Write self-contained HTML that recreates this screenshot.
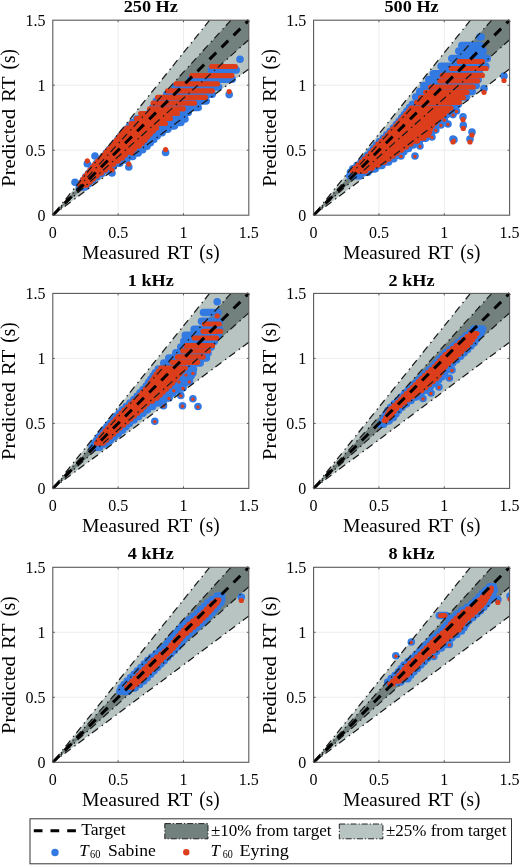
<!DOCTYPE html><html><head><meta charset="utf-8"><style>html,body{margin:0;padding:0;background:#fff;}svg{display:block}text{font-family:"Liberation Serif",serif;fill:#000}</style></head><body>
<svg width="520" height="865" viewBox="0 0 520 865">
<clipPath id="c0"><rect x="52.8" y="20.2" width="196" height="195"/></clipPath>
<path d="M118.13 20.2V215.2M52.8 150.2H248.8M183.47 20.2V215.2M52.8 85.2H248.8" stroke="#e8e8e8" stroke-width="0.8" fill="none"/>
<polygon points="52.8,215.2 209.6,20.2 248.8,20.2 248.8,68.95" fill="#b7c4c1"/>
<polygon points="52.8,215.2 230.98,20.2 248.8,20.2 248.8,39.7" fill="#72817e"/>
<g clip-path="url(#c0)">
<path d="M136.66 119.04H184.95M132.92 122.44H180.87M129.7 125.84H174.52M126.58 129.24H167.8M123.46 132.64H162.13M120.52 136.04H157.16M117.97 139.44H153.76M115.27 142.84H150.36M112.43 146.24H146.96M109.38 149.64H142.68M106.26 153.04H138.14M103.2 156.44H132.7M99.96 159.84H126.52M96.61 163.24H119.72M93.89 166.64H112.92M91.17 170.04H106.94M88.45 173.44H101.58M85.73 176.84H96.82M83.46 180.24H92.51M81.42 183.64H88.56M79.38 187.04H85.16M211.5 70H236.2M190.8 79.2H232.2M175.3 87H218.5M166.8 94.3H212.2M156.3 101H206.2M152.8 107.5H198.2M149.8 112.5H188.2" stroke="#3279e2" stroke-width="7.6" stroke-linecap="round" fill="none"/>
<g fill="#3279e2"><circle cx="240" cy="59.2" r="3.8"/><circle cx="229.2" cy="94.6" r="3.8"/><circle cx="165.6" cy="152.5" r="3.8"/><circle cx="87.3" cy="163.8" r="3.8"/><circle cx="128.8" cy="167" r="3.8"/><circle cx="112" cy="173" r="3.8"/><circle cx="132" cy="156" r="3.8"/><circle cx="75" cy="182.3" r="3.8"/><circle cx="95" cy="156" r="3.8"/></g>
<path d="M126.83 128.08H156.63M123.69 131.08H153.32M120.94 134.08H150.32M118.54 137.08H147.67M116.29 140.08H145.17M113.87 143.08H142.32M111.37 146.08H139.32M108.69 149.08H134.59M105.94 152.08H129.09M103.23 155.08H125.32M100.52 158.08H122.29M97.52 161.08H118.09M94.74 164.08H113.89M92.34 167.08H109.69M89.94 170.08H105.49M87.54 173.08H101.29M85.14 176.08H97.09M82.95 179.08H93.32M81.15 182.08H90.32M79.77 185.08H86.9M211.6 66.5H235.4M191.6 75.6H231.9M176.1 83.8H217.4M167.6 90.8H212.4M157.6 97.3H205.4M153.1 103.2H194.4M149.6 108.8H183.4M140.6 113.5H177.4M136.6 118.5H170.4M131.1 123.5H165.4" stroke="#dc3d1b" stroke-width="5.2" stroke-linecap="round" fill="none"/>
<g fill="#dc3d1b"><circle cx="229.2" cy="91.6" r="2.6"/><circle cx="165.6" cy="149.5" r="2.6"/><circle cx="87.3" cy="160.8" r="2.6"/><circle cx="128.8" cy="164" r="2.6"/><circle cx="112" cy="170" r="2.6"/><circle cx="132" cy="153" r="2.6"/></g>
</g>
<path d="M209.6 20.2L52.8 215.2M248.8 68.95L52.8 215.2M230.98 20.2L52.8 215.2M248.8 39.7L52.8 215.2" stroke="#1a1a1a" stroke-width="1.25" stroke-dasharray="7.5 3.5 1.5 4.6" fill="none"/>
<path d="M52.8 215.2L248.8 20.2" stroke="#000" stroke-width="3.0" stroke-dasharray="9.5 7.5" fill="none"/>
<rect x="52.8" y="20.2" width="196" height="195" fill="none" stroke="#5a5a5a" stroke-width="1.1"/>
<path d="M118.13 215.2v-2M118.13 20.2v2M52.8 150.2h2M248.8 150.2h-2M183.47 215.2v-2M183.47 20.2v2M52.8 85.2h2M248.8 85.2h-2" stroke="#5a5a5a" stroke-width="1" fill="none"/>
<text x="52.8" y="237.7" font-size="16" text-anchor="middle">0</text>
<text x="45.4" y="220.7" font-size="16" text-anchor="end">0</text>
<text x="118.13" y="237.7" font-size="16" text-anchor="middle">0.5</text>
<text x="45.4" y="155.7" font-size="16" text-anchor="end">0.5</text>
<text x="183.47" y="237.7" font-size="16" text-anchor="middle">1</text>
<text x="45.4" y="90.7" font-size="16" text-anchor="end">1</text>
<text x="248.8" y="237.7" font-size="16" text-anchor="middle">1.5</text>
<text x="45.4" y="25.7" font-size="16" text-anchor="end">1.5</text>
<text x="120.9" y="258.6" font-size="18.8" text-anchor="middle" textLength="77.6" lengthAdjust="spacingAndGlyphs">Measured</text>
<text x="179.5" y="258.6" font-size="18.8" text-anchor="middle" textLength="25.6" lengthAdjust="spacingAndGlyphs">RT</text>
<text x="209.5" y="258.6" font-size="20" text-anchor="middle" textLength="20.3" lengthAdjust="spacingAndGlyphs">(s)</text>
<text transform="translate(14.7 147.9) rotate(-90)" font-size="18.8" text-anchor="middle" textLength="77.8" lengthAdjust="spacingAndGlyphs">Predicted</text>
<text transform="translate(14.7 89.2) rotate(-90)" font-size="18.8" text-anchor="middle" textLength="25.6" lengthAdjust="spacingAndGlyphs">RT</text>
<text transform="translate(14.7 59.3) rotate(-90)" font-size="20" text-anchor="middle" textLength="20.3" lengthAdjust="spacingAndGlyphs">(s)</text>
<text x="150.8" y="12.3" font-size="17.5" font-weight="bold" text-anchor="middle" textLength="54.3" lengthAdjust="spacingAndGlyphs">250 Hz</text>
<clipPath id="c1"><rect x="313.6" y="20.2" width="196" height="195"/></clipPath>
<path d="M378.93 20.2V215.2M313.6 150.2H509.6M444.27 20.2V215.2M313.6 85.2H509.6" stroke="#e8e8e8" stroke-width="0.8" fill="none"/>
<polygon points="313.6,215.2 470.4,20.2 509.6,20.2 509.6,68.95" fill="#b7c4c1"/>
<polygon points="313.6,215.2 491.78,20.2 509.6,20.2 509.6,39.7" fill="#72817e"/>
<g clip-path="url(#c1)">
<path d="M412.33 104.24H458.31M409.56 107.64H453.96M406.87 111.04H450.06M404.33 114.44H446.93M401.79 117.84H443.81M399.08 121.24H440.3M396.32 124.64H436.7M393.38 128.04H433.73M390.06 131.44H432.18M386.74 134.84H430.64M383.25 138.24H425.66M379.69 141.64H419.33M376.28 145.04H413.31M373.51 148.44H408.56M370.74 151.84H403.82M367.66 155.24H398.85M364.42 158.64H393.77M361.08 162.04H388.54M356.9 165.44H381.89M352.72 168.84H375.25M350.43 172.24H367.93M349.74 175.64H360.05M479.8 37H481.2M461.8 45.5H480.2M458.8 51H483.2M451.8 58.5H487.2M441.1 66.2H485.8M433.4 73.8H479.7M428.8 79.5H478.2M423.8 85.5H476.2M419.8 91.5H472.2M415.8 97H466.2" stroke="#3279e2" stroke-width="7.6" stroke-linecap="round" fill="none"/>
<g fill="#3279e2"><circle cx="504" cy="76" r="3.8"/><circle cx="484" cy="88.5" r="3.8"/><circle cx="463" cy="116.7" r="3.8"/><circle cx="463.3" cy="125.4" r="3.8"/><circle cx="472" cy="132" r="3.8"/><circle cx="470" cy="139" r="3.8"/><circle cx="453" cy="139" r="3.8"/><circle cx="441" cy="125" r="3.8"/><circle cx="435.8" cy="130" r="3.8"/><circle cx="415" cy="156" r="3.8"/><circle cx="401" cy="156" r="3.8"/><circle cx="454" cy="139.7" r="3.8"/><circle cx="444.4" cy="119.8" r="3.8"/><circle cx="453" cy="114.6" r="3.8"/><circle cx="456.5" cy="111" r="3.8"/><circle cx="427" cy="132" r="3.8"/><circle cx="448" cy="124" r="3.8"/><circle cx="432" cy="137" r="3.8"/><circle cx="420" cy="146" r="3.8"/></g>
<path d="M410.94 108.08H450.9M408.53 111.08H447.32M405.91 114.08H444.32M403.28 117.08H441.32M400.66 120.08H438.32M398.03 123.08H435.32M395.41 126.08H432.32M392.75 129.08H430.71M390.08 132.08H429.71M387.42 135.08H428.71M384.37 138.08H423.94M381.16 141.08H417.51M377.94 144.08H411.09M375.42 147.08H406.35M372.98 150.08H401.81M370.52 153.08H397.29M367.41 156.08H393.15M364.31 159.08H389.01M361.19 162.08H384.62M357.93 165.08H378.48M354.68 168.08H372.33M352.24 171.08H365.7M459.1 61.5H482.4M451.4 68.5H486.2M442.2 75.4H482.4M439.9 80.8H477.8M430.6 87H473.2M425.6 92.3H467M420.6 97.7H463.4M416.6 102.3H459.4" stroke="#dc3d1b" stroke-width="5.2" stroke-linecap="round" fill="none"/>
<g fill="#dc3d1b"><circle cx="504" cy="80.5" r="2.6"/><circle cx="484" cy="92.3" r="2.6"/><circle cx="463" cy="119.7" r="2.6"/><circle cx="463.3" cy="128.4" r="2.6"/><circle cx="472" cy="135" r="2.6"/><circle cx="470" cy="142" r="2.6"/><circle cx="453" cy="142" r="2.6"/><circle cx="441" cy="125.5" r="1.7"/><circle cx="435.8" cy="130.5" r="1.7"/><circle cx="415" cy="156.5" r="1.7"/><circle cx="401" cy="156.5" r="1.7"/><circle cx="454" cy="140.2" r="1.7"/><circle cx="444.4" cy="120.3" r="1.7"/><circle cx="453" cy="115.1" r="1.7"/><circle cx="456.5" cy="111.5" r="1.7"/><circle cx="427" cy="132.5" r="1.7"/><circle cx="448" cy="124.5" r="1.7"/><circle cx="432" cy="137.5" r="1.7"/><circle cx="420" cy="146.5" r="1.7"/></g>
</g>
<path d="M470.4 20.2L313.6 215.2M509.6 68.95L313.6 215.2M491.78 20.2L313.6 215.2M509.6 39.7L313.6 215.2" stroke="#1a1a1a" stroke-width="1.25" stroke-dasharray="7.5 3.5 1.5 4.6" fill="none"/>
<path d="M313.6 215.2L509.6 20.2" stroke="#000" stroke-width="3.0" stroke-dasharray="9.5 7.5" fill="none"/>
<rect x="313.6" y="20.2" width="196" height="195" fill="none" stroke="#5a5a5a" stroke-width="1.1"/>
<path d="M378.93 215.2v-2M378.93 20.2v2M313.6 150.2h2M509.6 150.2h-2M444.27 215.2v-2M444.27 20.2v2M313.6 85.2h2M509.6 85.2h-2" stroke="#5a5a5a" stroke-width="1" fill="none"/>
<text x="313.6" y="237.7" font-size="16" text-anchor="middle">0</text>
<text x="306.2" y="220.7" font-size="16" text-anchor="end">0</text>
<text x="378.93" y="237.7" font-size="16" text-anchor="middle">0.5</text>
<text x="306.2" y="155.7" font-size="16" text-anchor="end">0.5</text>
<text x="444.27" y="237.7" font-size="16" text-anchor="middle">1</text>
<text x="306.2" y="90.7" font-size="16" text-anchor="end">1</text>
<text x="509.6" y="237.7" font-size="16" text-anchor="middle">1.5</text>
<text x="306.2" y="25.7" font-size="16" text-anchor="end">1.5</text>
<text x="381.7" y="258.6" font-size="18.8" text-anchor="middle" textLength="77.6" lengthAdjust="spacingAndGlyphs">Measured</text>
<text x="440.3" y="258.6" font-size="18.8" text-anchor="middle" textLength="25.6" lengthAdjust="spacingAndGlyphs">RT</text>
<text x="470.3" y="258.6" font-size="20" text-anchor="middle" textLength="20.3" lengthAdjust="spacingAndGlyphs">(s)</text>
<text transform="translate(275.5 147.9) rotate(-90)" font-size="18.8" text-anchor="middle" textLength="77.8" lengthAdjust="spacingAndGlyphs">Predicted</text>
<text transform="translate(275.5 89.2) rotate(-90)" font-size="18.8" text-anchor="middle" textLength="25.6" lengthAdjust="spacingAndGlyphs">RT</text>
<text transform="translate(275.5 59.3) rotate(-90)" font-size="20" text-anchor="middle" textLength="20.3" lengthAdjust="spacingAndGlyphs">(s)</text>
<text x="411.6" y="12.3" font-size="17.5" font-weight="bold" text-anchor="middle" textLength="54.3" lengthAdjust="spacingAndGlyphs">500 Hz</text>
<clipPath id="c2"><rect x="52.8" y="293.4" width="196" height="195"/></clipPath>
<path d="M118.13 293.4V488.4M52.8 423.4H248.8M183.47 293.4V488.4M52.8 358.4H248.8" stroke="#e8e8e8" stroke-width="0.8" fill="none"/>
<polygon points="52.8,488.4 209.6,293.4 248.8,293.4 248.8,342.15" fill="#b7c4c1"/>
<polygon points="52.8,488.4 230.98,293.4 248.8,293.4 248.8,312.9" fill="#72817e"/>
<g clip-path="url(#c2)">
<path d="M158.27 369.04H193.44M155.5 372.44H192.53M153.14 375.84H191.22M150.81 379.24H189.34M148.54 382.64H185.4M146.13 386.04H181.42M143.09 389.44H177.3M140.06 392.84H173.09M137.06 396.24H168.59M133.83 399.64H163.75M129.91 403.04H157.86M126.16 406.44H152.54M122.47 409.84H147.44M119.25 413.24H142.97M116.04 416.64H138.54M112.99 420.04H133.98M109.94 423.44H129.41M106.85 426.84H125.86M103.75 430.24H122.36M101.24 433.64H118.27M98.77 437.04H114.15M96.47 440.44H110.15M94.18 443.84H106.12M92.13 447.24H99.62M203.5 312.5H218.1M201.5 321.2H219.5M194.1 329.3H219.5M185.3 335.4H218.2M183.8 341.4H214.2M180.8 347H211.2M175.8 352.9H208M168.8 358H206.4M163.8 363H200.2" stroke="#3279e2" stroke-width="7.6" stroke-linecap="round" fill="none"/>
<g fill="#3279e2"><circle cx="217.2" cy="301.7" r="3.8"/><circle cx="182.5" cy="405.8" r="3.8"/><circle cx="192.9" cy="398.8" r="3.8"/><circle cx="198" cy="406.5" r="3.8"/><circle cx="154.8" cy="421.3" r="3.8"/><circle cx="175.6" cy="369.4" r="3.8"/><circle cx="186" cy="374.6" r="3.8"/><circle cx="192.9" cy="372.9" r="3.8"/><circle cx="179" cy="381.5" r="3.8"/><circle cx="189.4" cy="381.5" r="3.8"/><circle cx="173.8" cy="390.2" r="3.8"/><circle cx="180.8" cy="395.4" r="3.8"/><circle cx="163.5" cy="405.8" r="3.8"/><circle cx="169" cy="398" r="3.8"/><circle cx="183" cy="388" r="3.8"/></g>
<path d="M160.87 368.08H185.32M158.37 371.08H182.32M156.16 374.08H179.8M154.08 377.08H177.49M152.07 380.08H175.03M150.11 383.08H172.42M147.98 386.08H169.68M145.25 389.08H166.5M142.53 392.08H163.32M139.88 395.08H160.23M137.24 398.08H157.14M133.97 401.08H152.45M130.51 404.08H147.32M127.26 407.08H144.32M124.02 410.08H141.31M121.2 413.08H137.83M118.37 416.08H134.35M115.65 419.08H130.8M112.96 422.08H127.21M110.29 425.08H123.66M107.65 428.08H120.13M105.08 431.08H116.68M102.81 434.08H113.5M100.55 437.08H110.31M98.56 440.08H106.78M96.58 443.08H103.25M204.3 324H219.3M203 331.3H220.7M194.2 338H216.6M186.1 345.5H212.6M182.8 350.9H208.5M177.4 356.9H203.2M172 362.3H197.8" stroke="#dc3d1b" stroke-width="5.2" stroke-linecap="round" fill="none"/>
<g fill="#dc3d1b"><circle cx="217.2" cy="315.9" r="2.6"/><circle cx="182.5" cy="406.3" r="1.7"/><circle cx="192.9" cy="399.3" r="1.7"/><circle cx="198" cy="407" r="1.7"/><circle cx="154.8" cy="421.8" r="1.7"/><circle cx="175.6" cy="369.9" r="1.7"/><circle cx="186" cy="375.1" r="1.7"/><circle cx="192.9" cy="373.4" r="1.7"/><circle cx="179" cy="382" r="1.7"/><circle cx="189.4" cy="382" r="1.7"/><circle cx="173.8" cy="390.7" r="1.7"/><circle cx="180.8" cy="395.9" r="1.7"/><circle cx="163.5" cy="406.3" r="1.7"/><circle cx="169" cy="398.5" r="1.7"/><circle cx="183" cy="388.5" r="1.7"/></g>
</g>
<path d="M209.6 293.4L52.8 488.4M248.8 342.15L52.8 488.4M230.98 293.4L52.8 488.4M248.8 312.9L52.8 488.4" stroke="#1a1a1a" stroke-width="1.25" stroke-dasharray="7.5 3.5 1.5 4.6" fill="none"/>
<path d="M52.8 488.4L248.8 293.4" stroke="#000" stroke-width="3.0" stroke-dasharray="9.5 7.5" fill="none"/>
<rect x="52.8" y="293.4" width="196" height="195" fill="none" stroke="#5a5a5a" stroke-width="1.1"/>
<path d="M118.13 488.4v-2M118.13 293.4v2M52.8 423.4h2M248.8 423.4h-2M183.47 488.4v-2M183.47 293.4v2M52.8 358.4h2M248.8 358.4h-2" stroke="#5a5a5a" stroke-width="1" fill="none"/>
<text x="52.8" y="510.9" font-size="16" text-anchor="middle">0</text>
<text x="45.4" y="493.9" font-size="16" text-anchor="end">0</text>
<text x="118.13" y="510.9" font-size="16" text-anchor="middle">0.5</text>
<text x="45.4" y="428.9" font-size="16" text-anchor="end">0.5</text>
<text x="183.47" y="510.9" font-size="16" text-anchor="middle">1</text>
<text x="45.4" y="363.9" font-size="16" text-anchor="end">1</text>
<text x="248.8" y="510.9" font-size="16" text-anchor="middle">1.5</text>
<text x="45.4" y="298.9" font-size="16" text-anchor="end">1.5</text>
<text x="120.9" y="531.8" font-size="18.8" text-anchor="middle" textLength="77.6" lengthAdjust="spacingAndGlyphs">Measured</text>
<text x="179.5" y="531.8" font-size="18.8" text-anchor="middle" textLength="25.6" lengthAdjust="spacingAndGlyphs">RT</text>
<text x="209.5" y="531.8" font-size="20" text-anchor="middle" textLength="20.3" lengthAdjust="spacingAndGlyphs">(s)</text>
<text transform="translate(14.7 421.1) rotate(-90)" font-size="18.8" text-anchor="middle" textLength="77.8" lengthAdjust="spacingAndGlyphs">Predicted</text>
<text transform="translate(14.7 362.4) rotate(-90)" font-size="18.8" text-anchor="middle" textLength="25.6" lengthAdjust="spacingAndGlyphs">RT</text>
<text transform="translate(14.7 332.5) rotate(-90)" font-size="20" text-anchor="middle" textLength="20.3" lengthAdjust="spacingAndGlyphs">(s)</text>
<text x="150.8" y="285.5" font-size="17.5" font-weight="bold" text-anchor="middle" textLength="46" lengthAdjust="spacingAndGlyphs">1 kHz</text>
<clipPath id="c3"><rect x="313.6" y="293.4" width="196" height="195"/></clipPath>
<path d="M378.93 293.4V488.4M313.6 423.4H509.6M444.27 293.4V488.4M313.6 358.4H509.6" stroke="#e8e8e8" stroke-width="0.8" fill="none"/>
<polygon points="313.6,488.4 470.4,293.4 509.6,293.4 509.6,342.15" fill="#b7c4c1"/>
<polygon points="313.6,488.4 491.78,293.4 509.6,293.4 509.6,312.9" fill="#72817e"/>
<g clip-path="url(#c3)">
<path d="M473.8 329.04H482.61M470.42 332.44H481.29M466.28 335.84H478.92M462.14 339.24H476.56M458 342.64H474.19M453.89 346.04H470.93M449.79 349.44H467.56M445.68 352.84H464.18M442.09 356.24H460.57M439.05 359.64H456.69M436.01 363.04H452.82M432.88 366.44H449.14M429.16 369.84H446.81M425.44 373.24H444.49M421.72 376.64H442.16M418.24 380.04H438.59M414.87 383.44H434.45M411.5 386.84H430.31M408.12 390.24H425.92M404.72 393.64H420.93M401.32 397.04H415.95M397.92 400.44H410.97M394.3 403.84H406.46M390.66 407.24H402.01M387.81 410.64H398.39M386.04 414.04H395.91M384.27 417.44H393.43M382.54 420.84H389.14M380.84 424.24H383.64" stroke="#3279e2" stroke-width="7.6" stroke-linecap="round" fill="none"/>
<g fill="#3279e2"><circle cx="449.4" cy="378" r="3.8"/><circle cx="423" cy="398.5" r="3.8"/><circle cx="439" cy="387" r="3.8"/><circle cx="452" cy="370" r="3.8"/><circle cx="431" cy="393" r="3.8"/></g>
<path d="M470.59 333.58H476.93M466.94 336.58H474.85M463.28 339.58H472.76M459.63 342.58H470.67M456.01 345.58H467.82M452.39 348.58H464.85M448.76 351.58H461.87M445.14 354.58H458.9M442.45 357.58H455.48M439.77 360.58H452.06M437.09 363.58H448.64M434.29 366.58H445.48M431 369.58H443.43M427.72 372.58H441.38M424.44 375.58H439.33M421.25 378.58H436.81M418.27 381.58H433.16M415.3 384.58H429.5M412.33 387.58H425.85M409.34 390.58H421.86M406.34 393.58H417.46M403.34 396.58H413.06M400.34 399.58H408.67M397.21 402.58H404.55M394 405.58H400.62M390.78 408.58H396.69M388.88 411.58H394.14M387.32 414.58H391.96M385.76 417.58H389.77M384.23 420.58H386" stroke="#dc3d1b" stroke-width="5.2" stroke-linecap="round" fill="none"/>
<g fill="#dc3d1b"><circle cx="449.4" cy="378.5" r="1.7"/><circle cx="423" cy="399" r="1.7"/><circle cx="439" cy="387.5" r="1.7"/><circle cx="452" cy="370.5" r="1.7"/><circle cx="431" cy="393.5" r="1.7"/></g>
</g>
<path d="M470.4 293.4L313.6 488.4M509.6 342.15L313.6 488.4M491.78 293.4L313.6 488.4M509.6 312.9L313.6 488.4" stroke="#1a1a1a" stroke-width="1.25" stroke-dasharray="7.5 3.5 1.5 4.6" fill="none"/>
<path d="M313.6 488.4L509.6 293.4" stroke="#000" stroke-width="3.0" stroke-dasharray="9.5 7.5" fill="none"/>
<rect x="313.6" y="293.4" width="196" height="195" fill="none" stroke="#5a5a5a" stroke-width="1.1"/>
<path d="M378.93 488.4v-2M378.93 293.4v2M313.6 423.4h2M509.6 423.4h-2M444.27 488.4v-2M444.27 293.4v2M313.6 358.4h2M509.6 358.4h-2" stroke="#5a5a5a" stroke-width="1" fill="none"/>
<text x="313.6" y="510.9" font-size="16" text-anchor="middle">0</text>
<text x="306.2" y="493.9" font-size="16" text-anchor="end">0</text>
<text x="378.93" y="510.9" font-size="16" text-anchor="middle">0.5</text>
<text x="306.2" y="428.9" font-size="16" text-anchor="end">0.5</text>
<text x="444.27" y="510.9" font-size="16" text-anchor="middle">1</text>
<text x="306.2" y="363.9" font-size="16" text-anchor="end">1</text>
<text x="509.6" y="510.9" font-size="16" text-anchor="middle">1.5</text>
<text x="306.2" y="298.9" font-size="16" text-anchor="end">1.5</text>
<text x="381.7" y="531.8" font-size="18.8" text-anchor="middle" textLength="77.6" lengthAdjust="spacingAndGlyphs">Measured</text>
<text x="440.3" y="531.8" font-size="18.8" text-anchor="middle" textLength="25.6" lengthAdjust="spacingAndGlyphs">RT</text>
<text x="470.3" y="531.8" font-size="20" text-anchor="middle" textLength="20.3" lengthAdjust="spacingAndGlyphs">(s)</text>
<text transform="translate(275.5 421.1) rotate(-90)" font-size="18.8" text-anchor="middle" textLength="77.8" lengthAdjust="spacingAndGlyphs">Predicted</text>
<text transform="translate(275.5 362.4) rotate(-90)" font-size="18.8" text-anchor="middle" textLength="25.6" lengthAdjust="spacingAndGlyphs">RT</text>
<text transform="translate(275.5 332.5) rotate(-90)" font-size="20" text-anchor="middle" textLength="20.3" lengthAdjust="spacingAndGlyphs">(s)</text>
<text x="411.6" y="285.5" font-size="17.5" font-weight="bold" text-anchor="middle" textLength="46" lengthAdjust="spacingAndGlyphs">2 kHz</text>
<clipPath id="c4"><rect x="52.8" y="567.3" width="196" height="195"/></clipPath>
<path d="M118.13 567.3V762.3M52.8 697.3H248.8M183.47 567.3V762.3M52.8 632.3H248.8" stroke="#e8e8e8" stroke-width="0.8" fill="none"/>
<polygon points="52.8,762.3 209.6,567.3 248.8,567.3 248.8,616.05" fill="#b7c4c1"/>
<polygon points="52.8,762.3 230.98,567.3 248.8,567.3 248.8,586.8" fill="#72817e"/>
<g clip-path="url(#c4)">
<path d="M217.09 596.04H221.62M212.09 599.44H221.82M207.71 602.84H220.76M204.28 606.24H217.78M200.85 609.64H214.79M197.41 613.04H211.8M193.34 616.44H208.4M189.26 619.84H205M185.19 623.24H201.6M181.71 626.64H197.81M178.64 630.04H193.77M175.56 633.44H189.72M172.56 636.84H185.92M169.9 640.24H183.17M167.24 643.64H180.42M164.58 647.04H177.67M160.49 650.44H174.4M156.05 653.84H171M151.62 657.24H167.6M147.62 660.64H164.21M144.22 664.04H160.84M140.82 667.44H157.47M137.42 670.84H154.1M133.99 674.24H150.67M130.56 677.64H147.24M127.13 681.04H143.81M124.06 684.44H139.69M121.2 687.84H135.15M119.87 691.24H128.37" stroke="#3279e2" stroke-width="7.6" stroke-linecap="round" fill="none"/>
<g fill="#3279e2"><circle cx="241.3" cy="597" r="3.8"/></g>
<path d="M216.35 600.08H218.78M212.33 603.08H217.19M209.3 606.08H214.56M206.27 609.08H211.92M203.25 612.08H209.29M199.83 615.08H206.4M196.23 618.08H203.4M192.64 621.08H200.4M189.04 624.08H197.4M186.18 627.08H193.93M183.46 630.08H190.36M180.74 633.08H186.79M178.03 636.08H183.22M175.67 639.08H180.75M173.32 642.08H178.32M170.97 645.08H175.9M168.42 648.08H173.4M164.51 651.08H170.4M160.6 654.08H167.4M156.69 657.08H164.4M153.04 660.08H161.41M150.04 663.08H158.43M147.04 666.08H155.46M144.04 669.08H152.49M141.03 672.08H149.49M138 675.08H146.46M134.98 678.08H143.44M131.95 681.08H140.41M129.22 684.08H136.81M126.7 687.08H132.81" stroke="#dc3d1b" stroke-width="5.2" stroke-linecap="round" fill="none"/>
<g fill="#dc3d1b"><circle cx="241.3" cy="600.5" r="2.6"/></g>
</g>
<path d="M209.6 567.3L52.8 762.3M248.8 616.05L52.8 762.3M230.98 567.3L52.8 762.3M248.8 586.8L52.8 762.3" stroke="#1a1a1a" stroke-width="1.25" stroke-dasharray="7.5 3.5 1.5 4.6" fill="none"/>
<path d="M52.8 762.3L248.8 567.3" stroke="#000" stroke-width="3.0" stroke-dasharray="9.5 7.5" fill="none"/>
<rect x="52.8" y="567.3" width="196" height="195" fill="none" stroke="#5a5a5a" stroke-width="1.1"/>
<path d="M118.13 762.3v-2M118.13 567.3v2M52.8 697.3h2M248.8 697.3h-2M183.47 762.3v-2M183.47 567.3v2M52.8 632.3h2M248.8 632.3h-2" stroke="#5a5a5a" stroke-width="1" fill="none"/>
<text x="52.8" y="784.8" font-size="16" text-anchor="middle">0</text>
<text x="45.4" y="767.8" font-size="16" text-anchor="end">0</text>
<text x="118.13" y="784.8" font-size="16" text-anchor="middle">0.5</text>
<text x="45.4" y="702.8" font-size="16" text-anchor="end">0.5</text>
<text x="183.47" y="784.8" font-size="16" text-anchor="middle">1</text>
<text x="45.4" y="637.8" font-size="16" text-anchor="end">1</text>
<text x="248.8" y="784.8" font-size="16" text-anchor="middle">1.5</text>
<text x="45.4" y="572.8" font-size="16" text-anchor="end">1.5</text>
<text x="120.9" y="805.7" font-size="18.8" text-anchor="middle" textLength="77.6" lengthAdjust="spacingAndGlyphs">Measured</text>
<text x="179.5" y="805.7" font-size="18.8" text-anchor="middle" textLength="25.6" lengthAdjust="spacingAndGlyphs">RT</text>
<text x="209.5" y="805.7" font-size="20" text-anchor="middle" textLength="20.3" lengthAdjust="spacingAndGlyphs">(s)</text>
<text transform="translate(14.7 695) rotate(-90)" font-size="18.8" text-anchor="middle" textLength="77.8" lengthAdjust="spacingAndGlyphs">Predicted</text>
<text transform="translate(14.7 636.3) rotate(-90)" font-size="18.8" text-anchor="middle" textLength="25.6" lengthAdjust="spacingAndGlyphs">RT</text>
<text transform="translate(14.7 606.4) rotate(-90)" font-size="20" text-anchor="middle" textLength="20.3" lengthAdjust="spacingAndGlyphs">(s)</text>
<text x="150.8" y="559.4" font-size="17.5" font-weight="bold" text-anchor="middle" textLength="46" lengthAdjust="spacingAndGlyphs">4 kHz</text>
<clipPath id="c5"><rect x="313.6" y="567.3" width="196" height="195"/></clipPath>
<path d="M378.93 567.3V762.3M313.6 697.3H509.6M444.27 567.3V762.3M313.6 632.3H509.6" stroke="#e8e8e8" stroke-width="0.8" fill="none"/>
<polygon points="313.6,762.3 470.4,567.3 509.6,567.3 509.6,616.05" fill="#b7c4c1"/>
<polygon points="313.6,762.3 491.78,567.3 509.6,567.3 509.6,586.8" fill="#72817e"/>
<g clip-path="url(#c5)">
<path d="M489.73 586.84H493.59M485.64 590.24H494.42M482.29 593.64H492.72M478.91 597.04H490.92M475.47 600.44H488.91M472.03 603.84H486.89M467.1 607.24H483.8M461.75 610.64H480.4M456.81 614.04H476.86M453.37 617.44H472.84M449.93 620.84H468.81M446.96 624.24H466.06M444.23 627.64H463.96M441.33 631.04H461.52M437.26 634.44H456.74M433.19 637.84H451.95M429.54 641.24H448.05M426.18 644.64H444.72M422.82 648.04H441.38M419.34 651.44H436.5M415.86 654.84H431.62M412.08 658.24H427.52M408.02 661.64H424.16M403.95 665.04H420.8M401.16 668.44H417.36M398.43 671.84H413.92M395.13 675.24H410.73M391.05 678.64H407.87M387.69 682.04H400.73M439.3 615.5H446.2" stroke="#3279e2" stroke-width="7.6" stroke-linecap="round" fill="none"/>
<g fill="#3279e2"><circle cx="510" cy="596" r="3.8"/><circle cx="497.9" cy="599.4" r="3.8"/><circle cx="449.4" cy="644.4" r="3.8"/><circle cx="433.8" cy="656.5" r="3.8"/><circle cx="411.3" cy="642" r="3.8"/><circle cx="395.8" cy="655.8" r="3.8"/></g>
<path d="M491.45 588.08H491.46M488.98 591.08H491.05M485.53 594.08H489.3M482.23 597.08H487.54M479.19 600.08H485.76M476.16 603.08H483.98M472.29 606.08H481.6M467.57 609.08H478.6M462.84 612.08H475.6M459.12 615.08H472.27M456.09 618.08H468.72M453.05 621.08H465.17M450.45 624.08H462.8M448.04 627.08H460.95M445.64 630.08H459.1M442.25 633.08H455.29M438.66 636.08H451.07M435.06 639.08H446.85M432.07 642.08H443.87M429.11 645.08H440.93M426.14 648.08H437.97M423.07 651.08H433.66M420 654.08H429.35M416.83 657.08H425.31M413.24 660.08H422.34M409.65 663.08H419.38M406.41 666.08H416.39M404.01 669.08H413.35M401.6 672.08H410.32M398.86 675.08H407.43M395.68 678.08H404.73M392.59 681.08H399.43M389.78 684.08H392.99M440.6 615.5H444.9" stroke="#dc3d1b" stroke-width="5.2" stroke-linecap="round" fill="none"/>
<g fill="#dc3d1b"><circle cx="510" cy="599" r="2.6"/><circle cx="497.9" cy="602.4" r="2.6"/><circle cx="449.4" cy="644.9" r="1.7"/><circle cx="433.8" cy="657" r="1.7"/><circle cx="411.3" cy="642.5" r="1.7"/><circle cx="395.8" cy="656.3" r="1.7"/></g>
</g>
<path d="M470.4 567.3L313.6 762.3M509.6 616.05L313.6 762.3M491.78 567.3L313.6 762.3M509.6 586.8L313.6 762.3" stroke="#1a1a1a" stroke-width="1.25" stroke-dasharray="7.5 3.5 1.5 4.6" fill="none"/>
<path d="M313.6 762.3L509.6 567.3" stroke="#000" stroke-width="3.0" stroke-dasharray="9.5 7.5" fill="none"/>
<rect x="313.6" y="567.3" width="196" height="195" fill="none" stroke="#5a5a5a" stroke-width="1.1"/>
<path d="M378.93 762.3v-2M378.93 567.3v2M313.6 697.3h2M509.6 697.3h-2M444.27 762.3v-2M444.27 567.3v2M313.6 632.3h2M509.6 632.3h-2" stroke="#5a5a5a" stroke-width="1" fill="none"/>
<text x="313.6" y="784.8" font-size="16" text-anchor="middle">0</text>
<text x="306.2" y="767.8" font-size="16" text-anchor="end">0</text>
<text x="378.93" y="784.8" font-size="16" text-anchor="middle">0.5</text>
<text x="306.2" y="702.8" font-size="16" text-anchor="end">0.5</text>
<text x="444.27" y="784.8" font-size="16" text-anchor="middle">1</text>
<text x="306.2" y="637.8" font-size="16" text-anchor="end">1</text>
<text x="509.6" y="784.8" font-size="16" text-anchor="middle">1.5</text>
<text x="306.2" y="572.8" font-size="16" text-anchor="end">1.5</text>
<text x="381.7" y="805.7" font-size="18.8" text-anchor="middle" textLength="77.6" lengthAdjust="spacingAndGlyphs">Measured</text>
<text x="440.3" y="805.7" font-size="18.8" text-anchor="middle" textLength="25.6" lengthAdjust="spacingAndGlyphs">RT</text>
<text x="470.3" y="805.7" font-size="20" text-anchor="middle" textLength="20.3" lengthAdjust="spacingAndGlyphs">(s)</text>
<text transform="translate(275.5 695) rotate(-90)" font-size="18.8" text-anchor="middle" textLength="77.8" lengthAdjust="spacingAndGlyphs">Predicted</text>
<text transform="translate(275.5 636.3) rotate(-90)" font-size="18.8" text-anchor="middle" textLength="25.6" lengthAdjust="spacingAndGlyphs">RT</text>
<text transform="translate(275.5 606.4) rotate(-90)" font-size="20" text-anchor="middle" textLength="20.3" lengthAdjust="spacingAndGlyphs">(s)</text>
<text x="411.6" y="559.4" font-size="17.5" font-weight="bold" text-anchor="middle" textLength="46" lengthAdjust="spacingAndGlyphs">8 kHz</text>
<rect x="30" y="818.8" width="481.5" height="45" fill="#fff" stroke="#333" stroke-width="1"/>
<path d="M33.8 830.8h8.7M50.5 830.8h8.7M67.2 830.8h8.7" stroke="#000" stroke-width="2.9" fill="none"/>
<text x="81.2" y="835.3" font-size="16.5" textLength="44.6" lengthAdjust="spacingAndGlyphs">Target</text>
<rect x="164.8" y="823.6" width="43.2" height="15.2" fill="#72817e" stroke="#111" stroke-width="0.9" stroke-dasharray="6 2 1.2 2"/>
<text x="210.9" y="835.8" font-size="16.5" textLength="120.6" lengthAdjust="spacingAndGlyphs">±10% from target</text>
<rect x="339.3" y="824" width="43.6" height="14.8" fill="#b7c4c1" stroke="#111" stroke-width="0.9" stroke-dasharray="6 2 1.2 2"/>
<text x="385.9" y="835.8" font-size="16.5" textLength="120.5" lengthAdjust="spacingAndGlyphs">±25% from target</text>
<circle cx="55" cy="852.5" r="3.7" fill="#3279e2"/>
<text x="79.2" y="855.8" font-size="17" font-style="italic">T</text>
<text x="90" y="858.3" font-size="12.5" textLength="10.4" lengthAdjust="spacingAndGlyphs">60</text>
<text x="108" y="855.8" font-size="17" textLength="47.8" lengthAdjust="spacingAndGlyphs">Sabine</text>
<circle cx="186.3" cy="852.2" r="3.2" fill="#dc3d1b"/>
<text x="210.6" y="855.8" font-size="17" font-style="italic">T</text>
<text x="222.7" y="858.3" font-size="12.5" textLength="10" lengthAdjust="spacingAndGlyphs">60</text>
<text x="239.4" y="855.8" font-size="17" textLength="49.4" lengthAdjust="spacingAndGlyphs">Eyring</text>
</svg></body></html>
